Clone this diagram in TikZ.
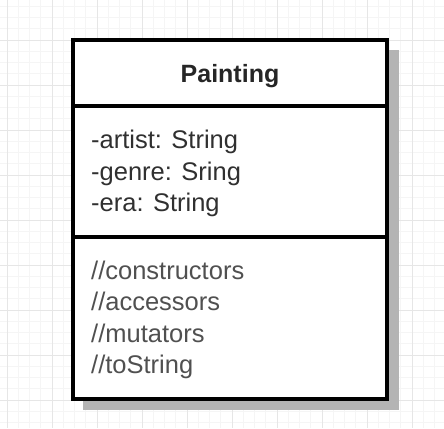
\documentclass[tikz,border=0pt]{standalone}
\usepackage{fontspec}
\setmainfont{Liberation Sans}
\usepackage{xcolor}
\usepackage{tikz}

\definecolor{gridmajor}{HTML}{E6E6E6}
\definecolor{gridminor}{HTML}{F5F5F5}
\definecolor{shadowgray}{HTML}{B4B4B4}
\definecolor{textdark}{HTML}{303030}
\definecolor{textgray}{HTML}{505050}

\begin{document}
\begin{tikzpicture}[x=1pt,y=-1pt,
  classline/.style={line width=4pt, black},
  member/.style={anchor=base west, inner sep=0pt, font=\fontsize{25.5}{31}\selectfont}]
% Define common parameters
\def\boxleft{73}
\def\boxright{387}
\def\boxtop{40.5}
\def\boxbottom{399}
\def\rowsep{31.5}

\useasboundingbox (0,0) rectangle (444,428);
\fill[white] (0,0) rectangle (444,428);

% Background grid
\foreach \k in {0,...,40}
  \draw[gridminor, line width=0.6pt] (-4.25+11.25*\k,0) -- ++(0,428);
\foreach \k in {0,...,37}
  \draw[gridminor, line width=0.6pt] (0,6.25+11.25*\k) -- ++(444,0);
\foreach \k in {0,...,9}{
  \draw[gridmajor, line width=0.8pt] (7+45*\k,0) -- ++(0,428);
  \draw[gridmajor, line width=0.8pt] (0,-5+45*\k) -- ++(444,0);
}

% Class box with shadow
\fill[shadowgray] (83,50) rectangle (399,410);
\draw[classline, fill=white] (\boxleft,\boxtop) rectangle (\boxright,\boxbottom);
\draw[classline] (\boxleft,106) -- (\boxright,106);
\draw[classline] (\boxleft,237) -- (\boxright,237);

% Class name
\node[anchor=base, inner sep=0pt, black!85, font=\bfseries\fontsize{25}{30}\selectfont]
  (title) at (230,82) {Painting};

% Attributes
\foreach \txt [count=\i] in {-artist: String, -genre: Sring, -era: String}
  \node[member, textdark] (attr\i) at (91,148.5+\rowsep*\i-\rowsep) {\txt};

% Methods
\foreach \txt [count=\i] in {//constructors, //accessors, //mutators, //toString}
  \node[member, textgray] (meth\i) at (91,279+\rowsep*\i-\rowsep) {\txt};

\end{tikzpicture}
\end{document}
